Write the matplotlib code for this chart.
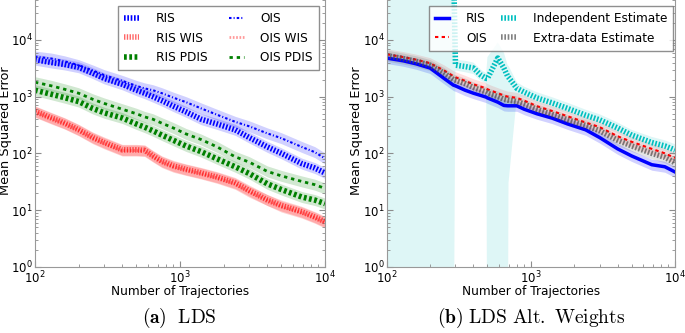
import matplotlib
matplotlib.use("Agg")
import matplotlib.pyplot as plt

plt.rcParams['font.family'] = ['DejaVu Sans']
plt.rcParams['mathtext.fontset'] = 'dejavusans'

# ---- (a) LDS -----------------------------------------------------------
x_left = [100, 130, 160, 200, 250, 300, 400, 500, 570, 650, 750, 900, 1100,
          1400, 1800, 2400, 3000, 4000, 5000, 6900, 8500, 10000]

ris = [4500, 4000, 3700, 3300, 2600, 2100, 1650, 1300, 1150, 1000, 850, 680,
       540, 400, 330, 260, 190, 130, 100, 66, 55, 45]
ois = [5100, 4700, 4200, 3600, 2900, 2400, 1900, 1550, 1400, 1300, 1150, 960,
       800, 620, 480, 360, 300, 225, 185, 130, 105, 81]
ris_wis = [550, 420, 340, 260, 190, 155, 115, 115, 113, 90, 72, 60, 52, 45,
           38, 30, 22, 15, 12, 9.3, 7.5, 6.2]
ois_wis = [540, 410, 335, 255, 185, 150, 112, 112, 110, 88, 70, 58, 51, 44,
           37, 29, 21, 15, 11.5, 9.0, 7.3, 6.0]
ris_pdis = [1300, 1100, 960, 820, 620, 520, 420, 330, 290, 250, 210, 170,
            135, 107, 80, 58, 44, 29, 23, 17, 15, 13]
ois_pdis = [1800, 1550, 1350, 1150, 900, 760, 600, 500, 440, 400, 340, 280,
            220, 175, 130, 87, 70, 48, 40, 32, 28, 24]

# ---- (b) LDS Alt. Weights -----------------------------------------------
x_right = [100, 130, 160, 200, 250, 290, 300, 350, 400, 450, 490, 500, 590,
           650, 690, 700, 800, 900, 1100, 1400, 1800, 2400, 3000, 4000, 5000,
           6900, 8500, 10000]

ris_b = [4800, 4300, 3800, 3200, 2100, 1600, 1550, 1300, 1150, 1050, 980,
         950, 800, 700, 690, 690, 690, 600, 500, 420, 330, 260, 190, 120, 90,
         63, 58, 47]
ois_b = [5600, 5000, 4500, 3900, 2900, 2300, 2200, 1900, 1650, 1500, 1400,
         1350, 1150, 1050, 1000, 1000, 950, 850, 680, 560, 450, 350, 290, 200,
         160, 120, 100, 83]
extra_b = [5300, 4700, 4200, 3600, 2600, 2000, 1950, 1700, 1450, 1300, 1200,
           1150, 1000, 900, 870, 870, 820, 740, 600, 490, 390, 310, 250, 170,
           135, 100, 85, 68]
indep_b = [3e5, 3e5, 3e5, 3e5, 3e5, 3e5, 3600, 3400, 3200, 2400, 2100, 2100,
           4800, 3200, 2300, 2200, 1400, 1200, 950, 780, 620, 470, 390, 280,
           210, 155, 135, 115]
indep_lo = [1e-3, 1e-3, 1e-3, 1e-3, 1e-3, 1e-3, 2900, 2700, 2500, 1900, 1700,
            1e-3, 1e-3, 1e-3, 1e-3, 30, 1000, 950, 760, 620, 500, 380, 310,
            225, 170, 125, 108, 92]
indep_hi = [1e7, 1e7, 1e7, 1e7, 1e7, 1e7, 4500, 4300, 4000, 3000, 2600, 5000,
            9000, 6000, 3600, 3500, 1800, 1500, 1200, 980, 780, 590, 490, 350,
            260, 195, 170, 145]

band = 1.25  # relative half-width of the shaded error bands

fig = plt.figure(figsize=(6.85, 3.33), dpi=100)
ax1 = fig.add_axes([0.0511, 0.1991, 0.4234, 0.851])
ax2 = fig.add_axes([0.5645, 0.1991, 0.4209, 0.851])


def curve(ax, x, y, color, label, alpha_band=0.18, **kw):
    ax.fill_between(x, [v / band for v in y], [v * band for v in y],
                    color=color, alpha=alpha_band, lw=0)
    ax.plot(x, y, color=color, label=label, **kw)


curve(ax1, x_left, ris, 'b', 'RIS', lw=4, dashes=(0.3, 0.3))
curve(ax1, x_left, ris_wis, 'r', 'RIS WIS', lw=4, dashes=(0.25, 0.25), alpha=0.6)
curve(ax1, x_left, ris_pdis, 'g', 'RIS PDIS', lw=4, dashes=(0.5, 0.45))
curve(ax1, x_left, ois, 'b', 'OIS', lw=1.5, dashes=(1.2, 1, 0.5, 1))
curve(ax1, x_left, ois_wis, 'r', 'OIS WIS', lw=2, dashes=(0.6, 0.6), alpha=0.4)
curve(ax1, x_left, ois_pdis, 'g', 'OIS PDIS', lw=2, dashes=(1.2, 1.4))

curve(ax2, x_right, ris_b, 'b', 'RIS', lw=2.5)
curve(ax2, x_right, ois_b, 'r', 'OIS', lw=1.5, dashes=(1.6, 1.6),
      alpha_band=0.12)
ax2.fill_between(x_right, indep_lo, indep_hi, color='c', alpha=0.13, lw=0)
ax2.plot(x_right, indep_b, color='c', lw=4, dashes=(0.3, 0.3),
         label='Independent Estimate')
curve(ax2, x_right, extra_b, '0.3', 'Extra-data Estimate', lw=4,
      dashes=(0.3, 0.3), alpha=0.7, alpha_band=0.15)

for ax in (ax1, ax2):
    ax.set_xscale('log')
    ax.set_yscale('log')
    ax.set_xlim(100, 10000)
    ax.set_ylim(1, 1e5)
    ax.set_yticks([1, 10, 100, 1000, 10000])
    ax.tick_params(which='both', direction='in', top=True, right=True,
                   labelsize=8.5, color='0.55')
    ax.tick_params(which='major', length=4)
    ax.tick_params(which='minor', length=2)
    ax.tick_params(axis='y', which='both', pad=1.5)
    ax.tick_params(axis='x', which='both', pad=2)
    for s in ax.spines.values():
        s.set_color('0.6')
    ax.set_xlabel('Number of Trajectories', fontsize=8.7)
    ax.set_ylabel('Mean Squared Error', fontsize=9.3)
    ax.xaxis.set_label_coords(0.5, -0.064)
    ax.yaxis.set_label_coords(-0.081, 0.48)

leg_kw = dict(ncol=2, loc='upper right', bbox_transform=fig.transFigure,
              fontsize=8.7, fancybox=False, edgecolor='0.45',
              handlelength=1.2, handletextpad=1.4, borderpad=0.5,
              labelspacing=0.55, borderaxespad=0)
ax1.legend(bbox_to_anchor=(0.4657, 0.982), columnspacing=1.8, **leg_kw)
ax2.legend(bbox_to_anchor=(0.9825, 0.982), columnspacing=1.2, **leg_kw)

fig.text(0.262, 0.045, r'$\mathbf{(a)}\ \ \mathrm{LDS}$', ha='center',
         va='center', fontsize=14, math_fontfamily='cm')
fig.text(0.775, 0.045, r'$\mathbf{(b)}\ \mathrm{LDS\ Alt.\ Weights}$',
         ha='center', va='center', fontsize=14, math_fontfamily='cm')

fig.savefig('out.png', dpi=100)
